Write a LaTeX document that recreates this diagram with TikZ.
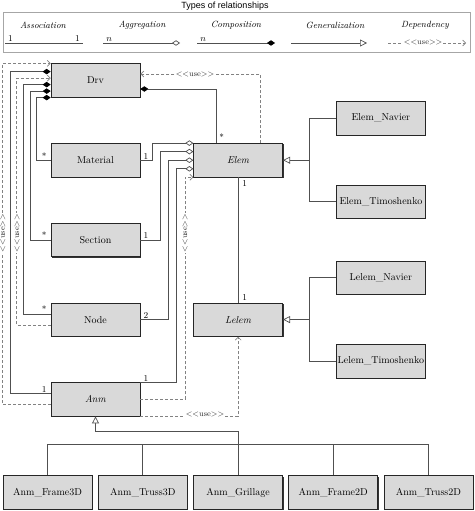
\documentclass[tikz,border=0pt]{standalone}
\usepackage{fontspec}
\newfontfamily\headfont{Liberation Sans}
\usetikzlibrary{positioning,arrows.meta,shadows}
\definecolor{boxgray}{RGB}{217,217,217}
\definecolor{linegray}{RGB}{80,80,80}
\definecolor{dashgray}{RGB}{130,130,130}
\newcommand{\usetag}{<\kern0pt<use>\kern0pt>}
\tikzset{
  box/.style  = {rectangle, draw=black!85, fill=boxgray, line width=0.7pt,
                 minimum width=89pt, minimum height=33.5pt, inner sep=1pt,
                 font=\fontsize{10}{12}\selectfont,
                 drop shadow={shadow xshift=1pt, shadow yshift=-1pt,
                              opacity=1, fill=black!80}},
  conn/.style = {draw=linegray, line width=0.7pt},
  comp/.style = {conn, -{Diamond[length=8pt,width=5.5pt,color=black,fill=black]}},
  aggr/.style = {conn, -{Diamond[open,length=8pt,width=5.5pt,fill=white]}},
  gen/.style  = {conn, -{Triangle[open,length=7pt,width=7pt,fill=white]}},
  dep/.style  = {draw=dashgray, line width=0.7pt, dash pattern=on 3pt off 2pt,
                 -{Straight Barb[length=3pt,width=6pt]}},
  mult/.style = {font=\fontsize{9}{10}\selectfont, inner sep=1pt},
  uselab/.style = {font=\fontsize{8}{9}\selectfont, fill=white, inner sep=1pt,
                   text=black!80},
  kind/.style = {font=\fontsize{9}{10}\selectfont\itshape}
}

\begin{document}
\begin{tikzpicture}[x=1pt, y=-1pt, node distance=45.5pt and 53pt]
  \useasboundingbox (0,0) rectangle (474,511);

  % legende
  \node[font=\headfont\fontsize{9}{10}\selectfont] (title) at (225,6) {Types of relationships};
  \node[draw=gray!70, line width=1pt, minimum width=467pt, minimum height=40pt,
        inner sep=0pt] (legend) at (236.5,33) {};
  \node[kind] (kassoc) at (43,25) {Association};
  \node[kind] (kaggr)  at (142,25) {Aggregation};
  \node[kind] (kcomp)  at (236,25) {Composition};
  \node[kind] (kgen)   at (335,25) {Generalization};
  \node[kind] (kdep)   at (425,25) {Dependency};
  \coordinate (as1) at (5,43);   \coordinate (as2) at (83,43);
  \coordinate (ag1) at (103,43); \coordinate (ag2) at (180,43);
  \coordinate (co1) at (197,43); \coordinate (co2) at (275,43);
  \coordinate (ge1) at (291,43); \coordinate (ge2) at (367,43);
  \coordinate (de1) at (388,43); \coordinate (de2) at (466,43);
  \draw[conn] (as1) -- (as2)
    node[mult, pos=0.07, above] (as1l) {1}
    node[mult, pos=0.93, above] (as2l) {1};
  \draw[aggr] (ag1) -- (ag2) node[mult, pos=0.08, above] (agl) {$n$};
  \draw[comp] (co1) -- (co2) node[mult, pos=0.08, above] (col) {$n$};
  \draw[gen] (ge1) -- (ge2);
  \draw[dep] (de1) -- (de2) node[uselab, pos=0.45] (del) {\usetag};

  % klassen
  \node[box] (drv) at (95.5,80.5) {Drv};
  \node[box, below=of drv] (mat) {Material};
  \node[box, below=of mat] (sec) {Section};
  \node[box, below=of sec] (nod) {Node};
  \node[box, below=of nod] (anm) {\textit{Anm}};
  \node[box, right=of mat] (elem)  {\textit{Elem}};
  \node[box, right=of nod] (lelem) {\textit{Lelem}};
  \node[box, right=of elem, yshift=42pt]    (enav) {Elem\_Navier};
  \node[box, right=of elem, yshift=-41.5pt] (etim) {Elem\_Timoshenko};
  \node[box, right=of lelem, yshift=42pt]    (lnav) {Lelem\_Navier};
  \node[box, right=of lelem, yshift=-41.5pt] (ltim) {Lelem\_Timoshenko};
  \node[box] (grill) at (238,492.5) {Anm\_Grillage};
  \node[box, left=5.5pt of grill]  (t3d) {Anm\_Truss3D};
  \node[box, left=5.5pt of t3d]    (f3d) {Anm\_Frame3D};
  \node[box, right=5.5pt of grill] (f2d) {Anm\_Frame2D};
  \node[box, right=5.5pt of f2d]   (t2d) {Anm\_Truss2D};

  % komposition nach Drv
  \draw[comp] (mat.west) -| ([xshift=-14pt]drv.south west) -- (drv.south west);
  \draw[comp] (sec.west) -| ([xshift=-20pt,yshift=6.5pt]drv.south west)
    -- ([yshift=6.5pt]drv.south west);
  \draw[comp] ([yshift=5.5pt]nod.west) -| ([xshift=-27pt,yshift=13pt]drv.south west)
    -- ([yshift=13pt]drv.south west);
  \draw[dep] ([yshift=-5.5pt]nod.west) -| ([xshift=-34pt,yshift=19.5pt]drv.south west)
    -- ([yshift=19.5pt]drv.south west);
  \draw[comp] ([yshift=5.5pt]anm.west) -| ([xshift=-40pt,yshift=26pt]drv.south west)
    -- ([yshift=26pt]drv.south west);
  \draw[dep] ([yshift=-5.5pt]anm.west) -| ([xshift=-48pt]drv.north west) -- (drv.north west);
  \draw[comp] ([xshift=-22pt]elem.north) |- ([yshift=-8.5pt]drv.east);
  \draw[dep] ([xshift=22pt]elem.north) |- ([yshift=6.5pt]drv.east);

  % aggregation nach Elem
  \draw[aggr] (mat.east) -| ([xshift=-41pt]elem.north west) -- (elem.north west);
  \draw[aggr] (sec.east) -| ([xshift=-33pt,yshift=-8.5pt]elem.north west)
    -- ([yshift=-8.5pt]elem.north west);
  \draw[aggr] (nod.east) -| ([xshift=-25pt]elem.west) -- (elem.west);
  \draw[aggr] (anm.north east) -| ([xshift=-17pt,yshift=8.5pt]elem.south west)
    -- ([yshift=8.5pt]elem.south west);
  \draw[dep] (anm.east) -| ([xshift=-8pt]elem.south west) -- (elem.south west);
  \draw[dep] (anm.south east) -| (lelem.south);
  \draw[conn] (elem.south) -- (lelem.north);

  % vererbung
  \draw[gen] (enav.west) -| ([xshift=26pt]elem.east) -- (elem.east);
  \draw[conn] (etim.west) -| ([xshift=26pt]elem.east);
  \draw[gen] (lnav.west) -| ([xshift=26pt]lelem.east) -- (lelem.east);
  \draw[conn] (ltim.west) -| ([xshift=26pt]lelem.east);
  \draw[gen] (grill.north) |- ([yshift=-15pt]anm.south) -- (anm.south);
  \draw[conn] (f3d.north) -- ++(0,-31) -| (t2d.north);
  \draw[conn] (t3d.north) -- ++(0,-31);
  \draw[conn] (f2d.north) -- ++(0,-31);

  % beschriftungen
  \node[uselab, rotate=90] (u1) at (3,233) {\usetag};
  \node[uselab, rotate=90] (u2) at (17,233) {\usetag};
  \node[uselab, rotate=90] (u3) at (185,233) {\usetag};
  \node[uselab] (u4) at (195,74) {\usetag};
  \node[uselab] (u5) at (205,414) {\usetag};
  \node[mult, anchor=south east] (m1) at ([xshift=-3pt]mat.west) {*};
  \node[mult, anchor=south east] (m2) at ([xshift=-3pt]sec.west) {*};
  \node[mult, anchor=south east] (m3) at ([xshift=-3pt,yshift=5.5pt]nod.west) {*};
  \node[mult, anchor=south east] (m4) at ([xshift=-3pt,yshift=5.5pt]anm.west) {1};
  \node[mult, anchor=south west] (m5) at ([xshift=2pt]mat.east) {1};
  \node[mult, anchor=south west] (m6) at ([xshift=2pt]sec.east) {1};
  \node[mult, anchor=south west] (m7) at ([xshift=2pt]nod.east) {2};
  \node[mult, anchor=south west] (m8) at ([xshift=2pt]anm.north east) {1};
  \node[mult, anchor=south west] (m9) at ([xshift=-20pt,yshift=1pt]elem.north) {*};
  \node[mult, anchor=north west] (m10) at ([xshift=3pt,yshift=-2pt]elem.south) {1};
  \node[mult, anchor=south west] (m11) at ([xshift=3pt,yshift=1pt]lelem.north) {1};
\end{tikzpicture}
\end{document}
